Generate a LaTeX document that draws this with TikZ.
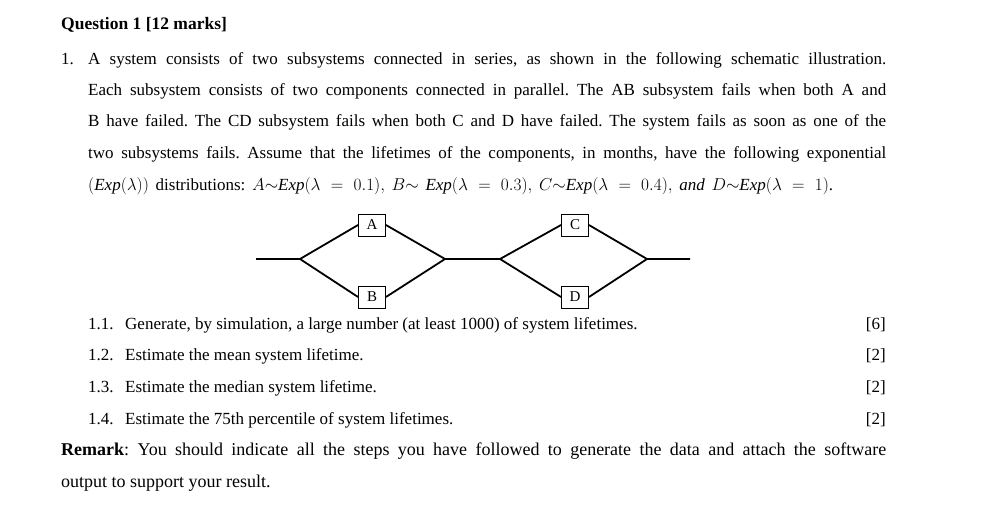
\documentclass[tikz,border=0pt]{standalone}
\usepackage{fontspec}
\setmainfont{Liberation Serif}
\frenchspacing
\begin{document}
\begin{tikzpicture}[x=1pt,y=-1pt,
  comp/.style={draw,line width=0.9pt,minimum width=27pt,minimum height=22pt,inner sep=0pt,font=\fontsize{15}{15}\selectfont},
  wire/.style={line width=1.8pt},
  txt/.style={anchor=base west,inner sep=0pt,font=\fontsize{17}{17}\selectfont}]
\useasboundingbox (0,0) rectangle (984,512);
\fill[white] (0,0) rectangle (984,512);
\node[txt,font=\fontsize{17.5}{17}\selectfont\bfseries] (title) at (61,29) {Question 1 [12 marks]};
\node[txt] (n1) at (61,64) {1.};
\node[txt] (l1) at (88,64) {\makebox[798pt][s]{A system consists of two subsystems connected in series, as shown in the following schematic illustration.}};
\node[txt] (l2) at (88,95) {\makebox[798pt][s]{Each subsystem consists of two components connected in parallel. The AB subsystem fails when both A and}};
\node[txt] (l3) at (88,126) {\makebox[798pt][s]{B have failed. The CD subsystem fails when both C and D have failed. The system fails as soon as one of the}};
\node[txt] (l4) at (88,158) {\makebox[798pt][s]{two subsystems fails. Assume that the lifetimes of the components, in months, have the following exponential}};
\node[txt] (l5) at (88,190) {\makebox[745pt][s]{$(\mathit{Exp}(\lambda))$ distributions: $A{\sim}\mathit{Exp}(\lambda=0.1),$ $B{\sim}$ $\mathit{Exp}(\lambda=0.3),$ $C{\sim}\mathit{Exp}(\lambda=0.4),$ $\mathit{and}$ $D{\sim}\mathit{Exp}(\lambda=1)$.}};
% diagram
\node[comp] (A) at (372,225) {A};
\node[comp] (B) at (372,297) {B};
\node[comp] (C) at (575,225) {C};
\node[comp] (D) at (575,297) {D};
\coordinate (in) at (256,259);
\coordinate (j1) at (300,259);
\coordinate (j2) at (445,259);
\coordinate (j3) at (500,259);
\coordinate (j4) at (647,259);
\coordinate (out) at (690,259);
\draw[wire] (in) -- (j1) -- (A.west) (A.east) -- (j2);
\draw[wire] (j1) -- (B.west) (B.east) -- (j2) -- (j3);
\draw[wire] (j3) -- (C.west) (C.east) -- (j4) -- (out);
\draw[wire] (j3) -- (D.west) (D.east) -- (j4);
% sub questions
\node[txt] (s1) at (88,329) {1.1.};
\node[txt] (t1) at (125,329) {Generate, by simulation, a large number (at least 1000) of system lifetimes.};
\node[txt,anchor=base east] (m1) at (886,329) {[6]};
\node[txt] (s2) at (88,360) {1.2.};
\node[txt] (t2) at (125,360) {Estimate the mean system lifetime.};
\node[txt,anchor=base east] (m2) at (886,360) {[2]};
\node[txt] (s3) at (88,392) {1.3.};
\node[txt] (t3) at (125,392) {Estimate the median system lifetime.};
\node[txt,anchor=base east] (m3) at (886,392) {[2]};
\node[txt] (s4) at (88,424) {1.4.};
\node[txt] (t4) at (125,424) {Estimate the 75th percentile of system lifetimes.};
\node[txt,anchor=base east] (m4) at (886,424) {[2]};
\node[txt,font=\fontsize{18}{18}\selectfont] (r1) at (61,455) {\makebox[825pt][s]{\textbf{Remark}: You should indicate all the steps you have followed to generate the data and attach the software}};
\node[txt,font=\fontsize{18}{18}\selectfont] (r2) at (61,487) {output to support your result.};
\end{tikzpicture}
\end{document}
